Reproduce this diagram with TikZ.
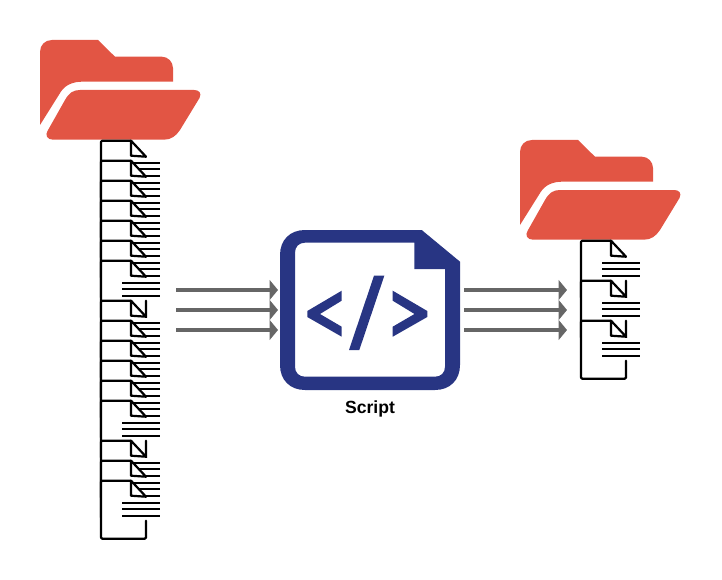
\documentclass[tikz,border=0pt]{standalone}
\usepackage{fontspec}
\setmainfont{Liberation Sans}
\usetikzlibrary{arrows.meta}
\definecolor{folderred}{HTML}{E25544}
\definecolor{scriptblue}{HTML}{283583}
\definecolor{flowgray}{HTML}{666666}
\tikzset{
  flowarrow/.style={draw=flowgray,line width=3.4pt,-{Triangle[length=8.5pt,width=20pt]}},
  docline/.style={draw=black,line width=2.2pt,line join=round,line cap=round},
  folderpic/.pic={
    \fill[folderred] (0,85) -- (0,12) .. controls (0,5) and (5,0) .. (12,0) -- (58,0) -- (75,16.7) -- (122,16.7)
      .. controls (128,16.7) and (133,22) .. (133,28) -- (133,41.7) -- (42,41.7)
      .. controls (33,41.7) and (25,45) .. (20.7,52) -- cycle;
    \fill[folderred] (40,50) -- (154,50) .. controls (159,50) and (162,53) .. (159.5,58) -- (140,90)
      .. controls (136,96) and (131,99.7) .. (124,99.7) -- (13,99.7)
      .. controls (7,99.7) and (5,95) .. (7.5,91) -- (25,60) .. controls (29,53) and (33,50) .. (40,50) -- cycle;
  },
  docpic/.pic={
    \fill[white] (0,0) -- (30,0) -- (44,15) -- (44,58) -- (0,58) -- cycle;
    \fill[white] (21,17) rectangle (59,40);
    \draw[docline,rounded corners=1.2pt] (45,40) -- (45,58) -- (0,58) -- (0,0) -- (30,0);
    \draw[docline] (30,0) -- (45,16) -- (30,15) -- cycle;
    \foreach \ly in {22,28.5,35}
      \draw[draw=black,line width=2.2pt] (21,\ly) -- (59,\ly);
  }
}
\begin{document}
\begin{tikzpicture}[x=1pt,y=-1pt]
\useasboundingbox (0,0) rectangle (722,580);

% folders
\pic at (40,40) {folderpic};
\pic at (520,140) {folderpic};

% files
\foreach \dy in {140,160,180,200,220,240,260,300,320,340,360,380,400,440,460,480}
  \pic at (101,\dy+0.7) {docpic};
\foreach \dy in {240,280,320}
  \pic at (581,\dy+0.7) {docpic};

% script icon
\fill[scriptblue,even odd rule] (305,230) -- (421.7,230) -- (460,261.7) -- (460,365)
  .. controls (460,380) and (450,390) .. (435,390) -- (305,390)
  .. controls (290,390) and (280,380) .. (280,365) -- (280,255)
  .. controls (280,240) and (290,230) .. (305,230) -- cycle
  (305,242.7) .. controls (299,242.7) and (295,246.7) .. (295,252.7) -- (295,366.7)
  .. controls (295,372.7) and (299,376.7) .. (305,376.7) -- (435,376.7)
  .. controls (441,376.7) and (445,372.7) .. (445,366.7) -- (445,269) -- (414.3,269) -- (414.3,242.7) -- cycle;
\fill[scriptblue] (341.7,290.7) -- (307.3,311) -- (307.3,317) -- (341.7,336.7) -- (341.7,326.7) -- (320,314) -- (341.7,300.7) -- cycle;
\fill[scriptblue] (392.7,290.7) -- (427.3,311) -- (427.3,317) -- (392.7,336.7) -- (392.7,326.7) -- (414.5,314) -- (392.7,300.7) -- cycle;
\fill[scriptblue] (374,275.7) -- (384.3,275.7) -- (359.3,350) -- (349,350) -- cycle;
\node[font=\fontsize{17.6}{20}\selectfont\bfseries,inner sep=0pt] (script) at (370,408.5) {Script};

% arrows
\foreach \ay [count=\i] in {290,310,330} {
  \coordinate (inA\i) at (176,\ay);
  \coordinate (inB\i) at (278,\ay);
  \coordinate (outA\i) at (464,\ay);
  \coordinate (outB\i) at (567,\ay);
  \draw[flowarrow] (inA\i) -- (inB\i);
  \draw[flowarrow] (outA\i) -- (outB\i);
}
\end{tikzpicture}
\end{document}
